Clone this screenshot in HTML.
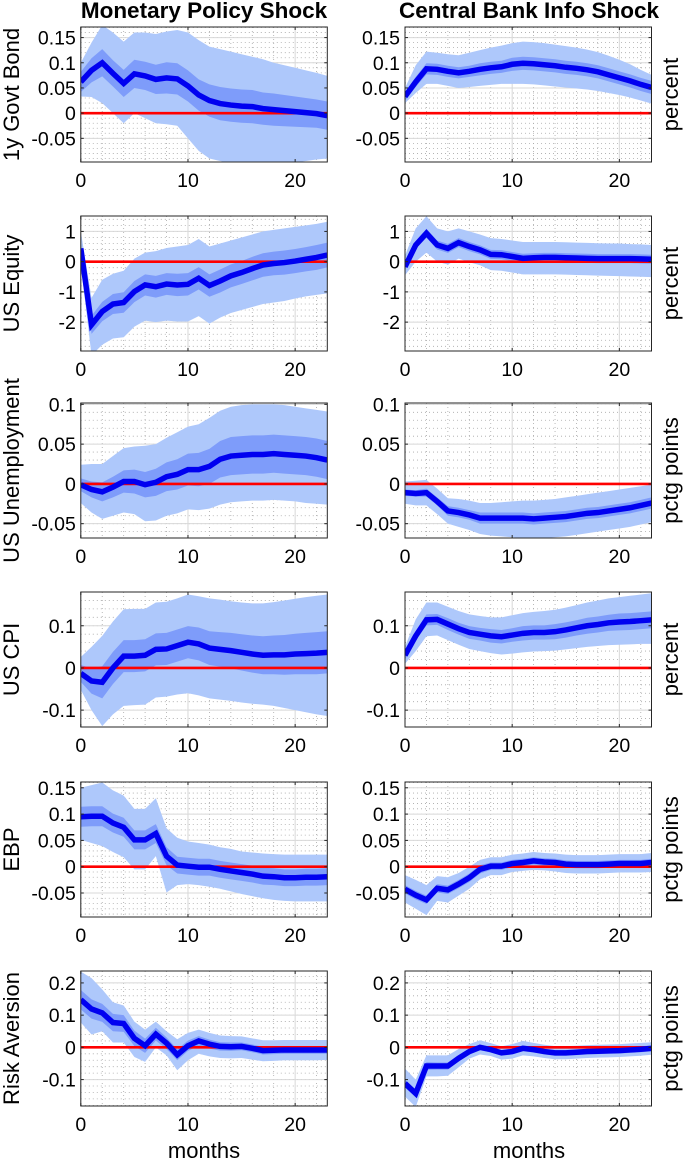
<!DOCTYPE html>
<html><head><meta charset="utf-8">
<style>
html,body{margin:0;padding:0;background:#fff;}
svg{display:block;font-family:"Liberation Sans",Arial,sans-serif;}
</style></head>
<body>
<svg id="fig" width="685" height="1163" viewBox="0 0 685 1163" xmlns="http://www.w3.org/2000/svg">
<text x="204" y="18" text-anchor="middle" font-size="22.5" font-weight="bold">Monetary Policy Shock</text>
<text x="529" y="18" text-anchor="middle" font-size="22.5" font-weight="bold">Central Bank Info Shock</text>
<text x="204" y="1158" text-anchor="middle" font-size="22">months</text>
<text x="529" y="1158" text-anchor="middle" font-size="22">months</text>
</svg>
<script>
// ---- data (months 0..23) ----
const months = [0,1,2,3,4,5,6,7,8,9,10,11,12,13,14,15,16,17,18,19,20,21,22,23];
const xTicks = [0,10,20];
const rowLabels = ["1y Govt Bond","US Equity","US Unemployment","US CPI","EBP","Risk Aversion"];
const unitLabels = ["percent","percent","pctg points","percent","pctg points","pctg points"];
const yTicks1 = [-0.05,0,0.05,0.1,0.15];
const yTicks2 = [-2,-1,0,1];
const yTicks3 = [-0.05,0,0.05,0.1];
const yTicks4 = [-0.1,0,0.1];
const yTicks5 = [-0.05,0,0.05,0.1,0.15];
const yTicks6 = [-0.1,0,0.1,0.2];
const yTickLabels1 = ["-0.05","0","0.05","0.1","0.15"];
const yTickLabels2 = ["-2","-1","0","1"];
const yTickLabels3 = ["-0.05","0","0.05","0.1"];
const yTickLabels4 = ["-0.1","0","0.1"];
const yTickLabels5 = ["-0.05","0","0.05","0.1","0.15"];
const yTickLabels6 = ["-0.1","0","0.1","0.2"];

const mpBondMed = [0.062,0.085,0.100,0.079,0.059,0.078,0.074,0.067,0.070,0.068,0.054,0.036,0.025,0.019,0.016,0.014,0.013,0.009,0.007,0.005,0.003,0.001,-0.001,-0.005];
const mpBondW68 = [0.02,0.024,0.027,0.026,0.027,0.028,0.028,0.029,0.031,0.031,0.031,0.031,0.032,0.033,0.033,0.033,0.033,0.032,0.032,0.031,0.030,0.029,0.028,0.028];
const mpBondHi90 = [0.10,0.14,0.175,0.16,0.142,0.16,0.16,0.157,0.162,0.165,0.16,0.145,0.132,0.127,0.122,0.117,0.112,0.107,0.10,0.095,0.09,0.085,0.08,0.074];
const mpBondLo90 = [0.033,0.032,0.02,0.0,-0.02,0.0,-0.01,-0.02,-0.022,-0.025,-0.05,-0.075,-0.09,-0.095,-0.1,-0.1,-0.1,-0.1,-0.1,-0.1,-0.098,-0.095,-0.092,-0.09];
const cbBondMed = [0.033,0.062,0.088,0.087,0.083,0.080,0.083,0.087,0.090,0.092,0.097,0.099,0.098,0.096,0.094,0.091,0.089,0.086,0.082,0.076,0.070,0.064,0.057,0.051];
const cbBondW68 = [0.008,0.01,0.011,0.011,0.011,0.011,0.011,0.012,0.012,0.012,0.013,0.013,0.013,0.013,0.013,0.013,0.013,0.013,0.013,0.013,0.013,0.013,0.013,0.013];
const cbBondHi90 = [0.05,0.095,0.122,0.12,0.117,0.115,0.12,0.125,0.13,0.134,0.139,0.142,0.141,0.139,0.136,0.133,0.13,0.126,0.121,0.114,0.106,0.097,0.086,0.076];
const cbBondLo90 = [0.02,0.04,0.058,0.058,0.054,0.05,0.052,0.054,0.056,0.058,0.058,0.058,0.057,0.055,0.053,0.051,0.049,0.047,0.044,0.040,0.036,0.031,0.025,0.019];
const mpEqMed = [0.44,-2.09,-1.65,-1.40,-1.35,-0.99,-0.77,-0.83,-0.74,-0.77,-0.75,-0.55,-0.79,-0.64,-0.47,-0.36,-0.23,-0.11,-0.06,-0.03,0.02,0.08,0.14,0.22];
const mpEqW68 = [0.15,0.3,0.32,0.33,0.34,0.35,0.35,0.36,0.36,0.37,0.37,0.37,0.37,0.38,0.38,0.38,0.39,0.39,0.39,0.40,0.40,0.40,0.41,0.41];
const mpEqHi90 = [1.0,-1.2,-0.6,-0.4,-0.3,0.1,0.3,0.35,0.45,0.5,0.55,0.75,0.5,0.6,0.7,0.8,0.9,1.0,1.05,1.1,1.15,1.2,1.25,1.32];
const mpEqLo90 = [-0.1,-3.1,-2.75,-2.54,-2.5,-2.15,-1.95,-2.0,-1.95,-1.98,-1.98,-1.8,-2.05,-1.85,-1.7,-1.6,-1.5,-1.4,-1.35,-1.3,-1.22,-1.15,-1.1,-1.05];
const cbEqMed = [-0.17,0.55,0.94,0.55,0.44,0.63,0.50,0.39,0.24,0.23,0.17,0.11,0.13,0.14,0.14,0.13,0.12,0.11,0.10,0.10,0.10,0.10,0.09,0.08];
const cbEqW68 = [0.1,0.13,0.15,0.15,0.15,0.15,0.15,0.15,0.15,0.15,0.15,0.15,0.15,0.15,0.15,0.15,0.15,0.15,0.15,0.15,0.15,0.15,0.15,0.15];
const cbEqHi90 = [0.2,1.1,1.5,1.1,1.0,1.1,1.0,0.9,0.78,0.75,0.7,0.65,0.65,0.65,0.65,0.64,0.63,0.62,0.61,0.6,0.6,0.58,0.57,0.55];
const cbEqLo90 = [-0.45,0.0,0.3,0.0,-0.1,0.1,-0.02,-0.12,-0.28,-0.3,-0.36,-0.42,-0.42,-0.42,-0.42,-0.43,-0.44,-0.45,-0.46,-0.47,-0.48,-0.49,-0.5,-0.51];
const mpUnMed = [-0.001,-0.007,-0.010,-0.004,0.003,0.003,-0.001,0.002,0.009,0.012,0.018,0.018,0.022,0.031,0.035,0.036,0.037,0.037,0.038,0.037,0.036,0.035,0.033,0.030];
const mpUnW68 = [0.008,0.01,0.012,0.013,0.014,0.015,0.016,0.017,0.018,0.019,0.02,0.021,0.022,0.023,0.024,0.024,0.024,0.024,0.024,0.024,0.024,0.024,0.024,0.024];
const mpUnHi90 = [0.024,0.025,0.025,0.035,0.045,0.047,0.048,0.05,0.058,0.065,0.072,0.075,0.083,0.092,0.097,0.099,0.1,0.1,0.1,0.099,0.097,0.095,0.093,0.091];
const mpUnLo90 = [-0.024,-0.036,-0.044,-0.04,-0.036,-0.038,-0.047,-0.046,-0.04,-0.037,-0.032,-0.033,-0.031,-0.026,-0.023,-0.022,-0.021,-0.021,-0.02,-0.021,-0.022,-0.024,-0.025,-0.026];
const cbUnMed = [-0.011,-0.012,-0.011,-0.022,-0.034,-0.036,-0.039,-0.043,-0.043,-0.043,-0.043,-0.043,-0.044,-0.043,-0.042,-0.041,-0.039,-0.037,-0.036,-0.034,-0.032,-0.030,-0.027,-0.024];
const cbUnW68 = [0.004,0.004,0.005,0.005,0.006,0.006,0.006,0.007,0.007,0.007,0.007,0.007,0.007,0.007,0.007,0.007,0.007,0.007,0.007,0.007,0.007,0.007,0.007,0.007];
const cbUnHi90 = [0.003,0.004,0.005,-0.006,-0.018,-0.019,-0.021,-0.024,-0.024,-0.023,-0.022,-0.021,-0.021,-0.02,-0.019,-0.017,-0.015,-0.013,-0.011,-0.009,-0.007,-0.005,-0.003,-0.001];
const cbUnLo90 = [-0.025,-0.027,-0.027,-0.038,-0.05,-0.054,-0.058,-0.063,-0.065,-0.066,-0.067,-0.068,-0.069,-0.068,-0.067,-0.066,-0.064,-0.062,-0.06,-0.058,-0.056,-0.054,-0.051,-0.048];
const mpCpiMed = [-0.013,-0.031,-0.034,0.000,0.028,0.028,0.030,0.044,0.045,0.053,0.061,0.057,0.047,0.044,0.041,0.037,0.033,0.030,0.031,0.031,0.033,0.034,0.035,0.037];
const mpCpiW68 = [0.02,0.03,0.038,0.038,0.038,0.038,0.038,0.038,0.038,0.038,0.038,0.039,0.04,0.041,0.042,0.043,0.044,0.045,0.046,0.047,0.048,0.049,0.05,0.05];
const mpCpiHi90 = [0.026,0.05,0.076,0.11,0.139,0.14,0.14,0.155,0.157,0.165,0.174,0.17,0.165,0.162,0.158,0.155,0.153,0.153,0.156,0.16,0.164,0.168,0.171,0.174];
const mpCpiLo90 = [-0.052,-0.1,-0.138,-0.11,-0.09,-0.088,-0.087,-0.07,-0.068,-0.063,-0.06,-0.065,-0.072,-0.075,-0.078,-0.082,-0.085,-0.087,-0.09,-0.095,-0.1,-0.105,-0.11,-0.114];
const cbCpiMed = [0.030,0.076,0.114,0.115,0.104,0.093,0.084,0.080,0.076,0.074,0.078,0.082,0.084,0.084,0.086,0.090,0.095,0.100,0.103,0.107,0.109,0.110,0.112,0.114];
const cbCpiW68 = [0.01,0.012,0.013,0.013,0.014,0.014,0.015,0.015,0.016,0.016,0.016,0.017,0.017,0.017,0.018,0.018,0.018,0.019,0.019,0.019,0.02,0.02,0.02,0.02];
const cbCpiHi90 = [0.05,0.115,0.155,0.155,0.145,0.135,0.127,0.123,0.12,0.12,0.125,0.13,0.133,0.135,0.138,0.143,0.149,0.155,0.16,0.165,0.168,0.171,0.174,0.177];
const cbCpiLo90 = [0.01,0.04,0.075,0.077,0.066,0.055,0.045,0.04,0.035,0.032,0.034,0.037,0.039,0.04,0.041,0.044,0.047,0.05,0.052,0.054,0.055,0.056,0.057,0.057];
const mpEbpMed = [0.095,0.096,0.096,0.083,0.075,0.051,0.051,0.063,0.020,0.003,0.001,-0.001,-0.001,-0.005,-0.008,-0.011,-0.014,-0.018,-0.019,-0.021,-0.021,-0.020,-0.020,-0.019];
const mpEbpW68 = [0.019,0.019,0.019,0.018,0.018,0.018,0.018,0.018,0.017,0.016,0.016,0.016,0.016,0.016,0.016,0.016,0.016,0.016,0.016,0.016,0.016,0.016,0.016,0.016];
const mpEbpHi90 = [0.15,0.155,0.16,0.145,0.135,0.11,0.11,0.13,0.073,0.055,0.048,0.045,0.042,0.037,0.034,0.029,0.027,0.025,0.024,0.023,0.023,0.023,0.023,0.023];
const mpEbpLo90 = [0.051,0.045,0.039,0.028,0.018,-0.005,-0.005,0.02,-0.049,-0.035,-0.033,-0.035,-0.038,-0.042,-0.047,-0.052,-0.056,-0.06,-0.063,-0.065,-0.066,-0.066,-0.066,-0.066];
const cbEbpMed = [-0.043,-0.054,-0.063,-0.041,-0.044,-0.033,-0.021,-0.005,0.001,0.001,0.006,0.008,0.011,0.009,0.008,0.005,0.004,0.004,0.004,0.005,0.006,0.006,0.006,0.008];
const cbEbpW68 = [0.008,0.008,0.008,0.008,0.008,0.008,0.008,0.008,0.007,0.007,0.007,0.007,0.007,0.007,0.007,0.007,0.007,0.007,0.007,0.007,0.007,0.007,0.007,0.007];
const cbEbpHi90 = [-0.016,-0.025,-0.035,-0.018,-0.02,-0.012,0.0,0.013,0.018,0.018,0.023,0.025,0.028,0.026,0.025,0.023,0.022,0.022,0.022,0.023,0.024,0.024,0.024,0.026];
const cbEbpLo90 = [-0.068,-0.08,-0.092,-0.065,-0.068,-0.055,-0.042,-0.024,-0.016,-0.016,-0.01,-0.008,-0.006,-0.007,-0.009,-0.012,-0.013,-0.013,-0.013,-0.012,-0.011,-0.011,-0.011,-0.01];
const mpRaMed = [0.148,0.119,0.107,0.077,0.074,0.028,0.005,0.041,0.013,-0.023,0.005,0.020,0.010,0.003,0.002,0.003,-0.003,-0.010,-0.009,-0.008,-0.008,-0.008,-0.008,-0.008];
const mpRaW68 = [0.03,0.03,0.028,0.027,0.026,0.024,0.022,0.02,0.018,0.017,0.016,0.015,0.014,0.013,0.013,0.012,0.012,0.012,0.012,0.012,0.012,0.012,0.012,0.012];
const mpRaHi90 = [0.235,0.215,0.18,0.14,0.13,0.08,0.055,0.08,0.05,0.025,0.045,0.055,0.045,0.037,0.035,0.034,0.028,0.022,0.022,0.023,0.023,0.023,0.023,0.023];
const mpRaLo90 = [0.077,0.04,0.05,0.015,0.015,-0.03,-0.045,0.0,-0.025,-0.071,-0.04,-0.02,-0.028,-0.033,-0.034,-0.033,-0.038,-0.043,-0.042,-0.04,-0.04,-0.04,-0.04,-0.039];
const cbRaMed = [-0.112,-0.143,-0.058,-0.058,-0.058,-0.034,-0.013,0.000,-0.007,-0.017,-0.013,-0.003,-0.007,-0.013,-0.017,-0.017,-0.015,-0.013,-0.012,-0.011,-0.010,-0.008,-0.006,-0.003];
const cbRaW68 = [0.012,0.012,0.012,0.011,0.011,0.01,0.01,0.009,0.009,0.009,0.009,0.009,0.009,0.009,0.009,0.009,0.009,0.009,0.009,0.009,0.009,0.009,0.009,0.009];
const cbRaHi90 = [-0.066,-0.1,-0.025,-0.025,-0.025,-0.005,0.01,0.022,0.013,0.003,0.01,0.02,0.014,0.008,0.004,0.004,0.005,0.007,0.008,0.009,0.01,0.012,0.014,0.016];
const cbRaLo90 = [-0.153,-0.185,-0.09,-0.09,-0.088,-0.062,-0.035,-0.022,-0.027,-0.038,-0.035,-0.025,-0.028,-0.033,-0.037,-0.037,-0.035,-0.033,-0.032,-0.031,-0.03,-0.028,-0.026,-0.023];

const panelDefs = [
 {row:0,col:0,med:mpBondMed,w68:mpBondW68,hi90:mpBondHi90,lo90:mpBondLo90},
 {row:0,col:1,med:cbBondMed,w68:cbBondW68,hi90:cbBondHi90,lo90:cbBondLo90},
 {row:1,col:0,med:mpEqMed,w68:mpEqW68,hi90:mpEqHi90,lo90:mpEqLo90},
 {row:1,col:1,med:cbEqMed,w68:cbEqW68,hi90:cbEqHi90,lo90:cbEqLo90},
 {row:2,col:0,med:mpUnMed,w68:mpUnW68,hi90:mpUnHi90,lo90:mpUnLo90},
 {row:2,col:1,med:cbUnMed,w68:cbUnW68,hi90:cbUnHi90,lo90:cbUnLo90},
 {row:3,col:0,med:mpCpiMed,w68:mpCpiW68,hi90:mpCpiHi90,lo90:mpCpiLo90},
 {row:3,col:1,med:cbCpiMed,w68:cbCpiW68,hi90:cbCpiHi90,lo90:cbCpiLo90},
 {row:4,col:0,med:mpEbpMed,w68:mpEbpW68,hi90:mpEbpHi90,lo90:mpEbpLo90},
 {row:4,col:1,med:cbEbpMed,w68:cbEbpW68,hi90:cbEbpHi90,lo90:cbEbpLo90},
 {row:5,col:0,med:mpRaMed,w68:mpRaW68,hi90:mpRaHi90,lo90:mpRaLo90},
 {row:5,col:1,med:cbRaMed,w68:cbRaW68,hi90:cbRaHi90,lo90:cbRaLo90}
];
const yTickSets = [yTicks1,yTicks2,yTicks3,yTicks4,yTicks5,yTicks6];
const yTickLabelSets = [yTickLabels1,yTickLabels2,yTickLabels3,yTickLabels4,yTickLabels5,yTickLabels6];
const panelNames = ["bond","equity","unemployment","cpi","ebp","risk-aversion"];

// ---- layout (not data) ----
const yLims = [[-0.097,0.171],[-2.955,1.51],[-0.068,0.1017],[-0.14,0.18],[-0.0956,0.161],[-0.182,0.237]];
const yMinor = [0.01,0.2,0.01,0.02,0.01,0.02];
const rowTop = [27,216,403,592,782,971];
const panelH = 135;
const colLeft = [80.8,405];
const panelW = 246.5;
const NS = "http://www.w3.org/2000/svg";
const svg = document.getElementById('fig');
function mk(tag, attrs, parent){
  const e = document.createElementNS(NS, tag);
  for (const k in attrs) e.setAttribute(k, attrs[k]);
  (parent||svg).appendChild(e);
  return e;
}
const fmt = v => Math.round(v*1000)/1000;

rowLabels.forEach((lab,r)=>{
  const cy = rowTop[r] + panelH/2;
  const t = mk('text',{x:0,y:0,'font-size':22,'text-anchor':'middle',transform:`translate(19,${cy}) rotate(-90)`});
  
  
  t.textContent = lab;
  const u = mk('text',{x:0,y:0,'font-size':22,'text-anchor':'middle',transform:`translate(678,${cy}) rotate(-90)`});
  
  
  u.textContent = unitLabels[r];
});

panelDefs.forEach(p=>{
  const x0 = colLeft[p.col], y0 = rowTop[p.row];
  const [ymin,ymax] = yLims[p.row];
  const sx = m => x0 + (m/23)*panelW;
  const sy = v => y0 + panelH - (v - ymin)/(ymax-ymin)*panelH;
  const g = mk('g',{});
  
  
  const cid = 'clip'+p.row+'_'+p.col;
  const cp = mk('clipPath',{id:cid},g);
  mk('rect',{x:x0,y:y0,width:panelW,height:panelH},cp);
  for (let m=2;m<23;m+=2){ if (m%10) mk('line',{x1:sx(m),x2:sx(m),y1:y0,y2:y0+panelH,stroke:'#a8a8a8','stroke-width':0.8,'stroke-dasharray':'1 3'},g); }
  const st = yMinor[p.row];
  for (let v=Math.ceil(ymin/st)*st; v<ymax; v+=st){ mk('line',{x1:x0,x2:x0+panelW,y1:sy(v),y2:sy(v),stroke:'#a8a8a8','stroke-width':0.8,'stroke-dasharray':'1 3'},g); }
  xTicks.forEach(t=>mk('line',{x1:sx(t),x2:sx(t),y1:y0,y2:y0+panelH,stroke:'#d8d8d8','stroke-width':1},g));
  yTickSets[p.row].forEach(t=>mk('line',{x1:x0,x2:x0+panelW,y1:sy(t),y2:sy(t),stroke:'#d8d8d8','stroke-width':1},g));
  const cg = mk('g',{'clip-path':`url(#${cid})`},g);
  let d = months.map((m,i)=>`${i?'L':'M'}${fmt(sx(m))},${fmt(sy(p.hi90[i]))}`).join('');
  d += months.slice().reverse().map(m=>`L${fmt(sx(m))},${fmt(sy(p.lo90[m]))}`).join('') + 'Z';
  const b90 = mk('path',{d:d,fill:'#aec8fb',stroke:'none'},cg);
  
  
  let d2 = months.map((m,i)=>`${i?'L':'M'}${fmt(sx(m))},${fmt(sy(p.med[i]+p.w68[i]))}`).join('');
  d2 += months.slice().reverse().map(m=>`L${fmt(sx(m))},${fmt(sy(p.med[m]-p.w68[m]))}`).join('') + 'Z';
  const b68 = mk('path',{d:d2,fill:'#7e9cfa',stroke:'none'},cg);
  
  
  const z = mk('line',{x1:x0,x2:x0+panelW,y1:sy(0),y2:sy(0),stroke:'#ff0000','stroke-width':2.6},cg);
  
  
  const ml = mk('polyline',{points:months.map((m,i)=>`${fmt(sx(m))},${fmt(sy(p.med[i]))}`).join(' '),fill:'none',stroke:'#0000f0','stroke-width':5.5,'stroke-linejoin':'miter'},cg);
  
  
  mk('rect',{x:x0,y:y0,width:panelW,height:panelH,fill:'none',stroke:'#262626','stroke-width':1},g);
  xTicks.forEach(t=>{
    mk('line',{x1:sx(t),x2:sx(t),y1:y0+panelH,y2:y0+panelH-3,stroke:'#262626'},g);
    mk('line',{x1:sx(t),x2:sx(t),y1:y0,y2:y0+3,stroke:'#262626'},g);
    const tl = mk('text',{x:sx(t),y:y0+panelH+25,'font-size':19.5,'text-anchor':'middle',fill:'#000'},g);
    
    
    tl.textContent = String(t);
  });
  yTickSets[p.row].forEach((t,i)=>{
    mk('line',{x1:x0,x2:x0+3,y1:sy(t),y2:sy(t),stroke:'#262626'},g);
    mk('line',{x1:x0+panelW,x2:x0+panelW-3,y1:sy(t),y2:sy(t),stroke:'#262626'},g);
    const tl = mk('text',{x:x0-5,y:sy(t)+7,'font-size':19.5,'text-anchor':'end',fill:'#000'},g);
    
    
    tl.textContent = yTickLabelSets[p.row][i];
  });
});
</script>
</body></html>
